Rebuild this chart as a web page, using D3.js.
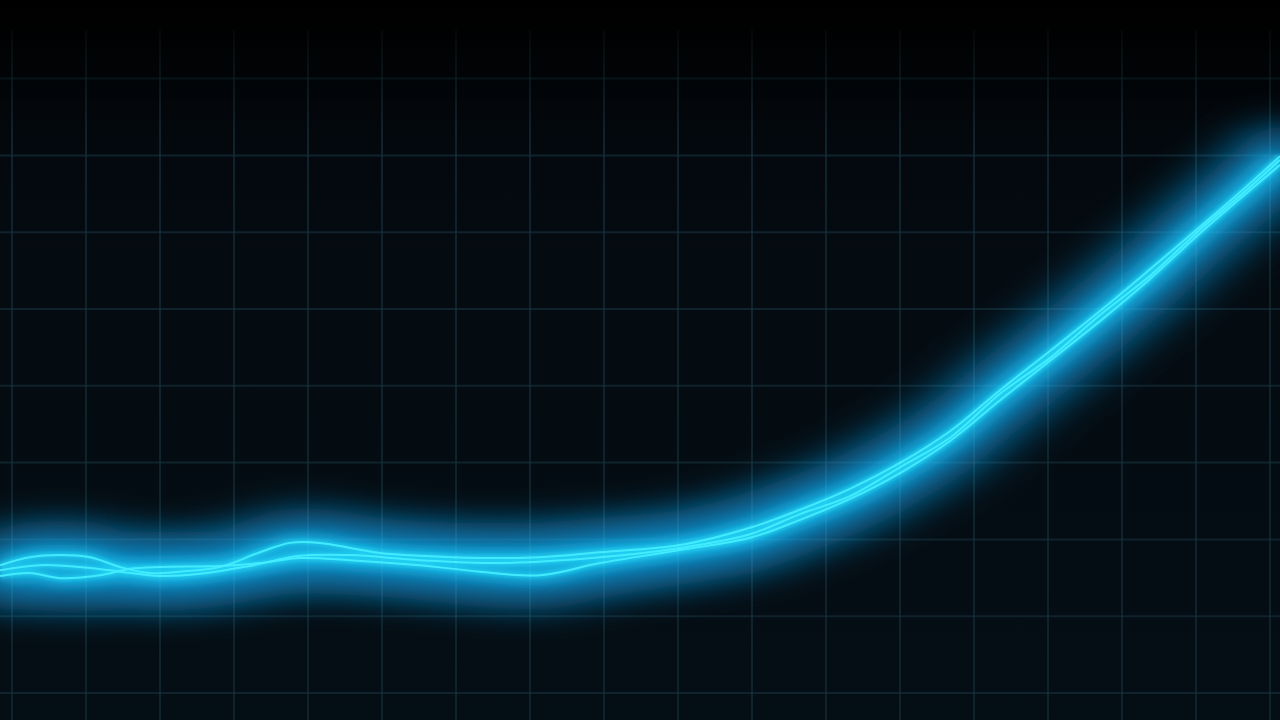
<!DOCTYPE html>
<html>
<head>
<meta charset="utf-8">
<script src="https://cdn.jsdelivr.net/npm/d3@7/dist/d3.min.js"></script>
<style>
  html, body { margin: 0; padding: 0; background: #03080d; overflow: hidden; }
  svg { display: block; }
</style>
</head>
<body>
<svg id="chart" width="1280" height="720"></svg>
<script>
// ---- Data (x: time units, y: value 0..100) ----
const strandAX = [0,3,6,9,12,15,18,22,26,29,32,35,38,42,48,54,60,68,75,80,85,90,95,100,105,110,115,120,124,128];
const strandAY = [21.5,22.6,22.9,22.6,21.25,20.4,20.6,21.25,23.3,24.6,24.6,23.9,23.2,22.8,22.5,22.6,23.3,24.3,26.7,29.2,32.1,35.7,40.1,45.8,51.25,56.8,62.6,68.5,73.3,78.3];

const strandBX = [0,3,6,10,13,16,22,26,30,35,42,48,54,60,68,75,80,85,90,95,100,105,110,115,120,124,128];
const strandBY = [20.0,20.4,19.7,20.1,21.0,21.25,21.4,21.8,22.5,22.2,21.5,20.6,20.1,21.8,23.6,25.3,27.8,30.7,34.3,38.75,44.4,49.9,55.4,61.25,67.6,72.4,77.1];

const strandCX = [0,4,8,12,16,20,25,30,35,42,50,60,68,75,80,85,90,95,100,105,110,115,120,124,128];
const strandCY = [20.8,21.5,21.25,20.6,20.0,20.3,21.4,22.8,22.9,22.2,21.8,22.6,23.9,25.8,28.6,31.1,35.1,39.2,45.3,50.3,56.25,61.7,68.1,72.8,77.8];

const xGridTicks = [1.2,8.6,16.0,23.4,30.8,38.2,45.6,53.0,60.4,67.8,75.2,82.6,90.0,97.4,104.8,112.2,119.6,127.0];
const yGridTicks = [3.75,14.42,25.08,35.75,46.42,57.08,67.75,78.42,89.08];

// ---- Setup ----
const W = 1280, H = 720;
const svg = d3.select("#chart");
const x = d3.scaleLinear().domain([0, 128]).range([0, 1280]);
const y = d3.scaleLinear().domain([0, 100]).range([720, 0]);

const defs = svg.append("defs");

const bg = defs.append("linearGradient").attr("id", "bg").attr("x1", 0).attr("y1", 0).attr("x2", 0).attr("y2", 1);
bg.append("stop").attr("offset", "0%").attr("stop-color", "#010203");
bg.append("stop").attr("offset", "8%").attr("stop-color", "#02060a");
bg.append("stop").attr("offset", "35%").attr("stop-color", "#040b11");
bg.append("stop").attr("offset", "100%").attr("stop-color", "#040e15");

function blurFilter(id, sd) {
  const f = defs.append("filter").attr("id", id)
    .attr("filterUnits", "userSpaceOnUse")
    .attr("x", -200).attr("y", -200).attr("width", 1680).attr("height", 1120);
  f.append("feGaussianBlur").attr("stdDeviation", sd);
}
blurFilter("wideGlow", "28 16");
blurFilter("midGlow", "12 5");
blurFilter("tightGlow", "2");

svg.append("rect").attr("width", W).attr("height", H).attr("fill", "url(#bg)");

// grid (base, faint)
const grid = svg.append("g");
grid.selectAll("line.v").data(xGridTicks).join("line")
  .attr("x1", d => x(d)).attr("x2", d => x(d))
  .attr("y1", 30).attr("y2", H)
  .attr("stroke", "#09161d").attr("stroke-width", 2);
grid.selectAll("line.h").data(yGridTicks).join("line")
  .attr("x1", 0).attr("x2", W)
  .attr("y1", d => y(d)).attr("y2", d => y(d))
  .attr("stroke", "#0b1a22").attr("stroke-width", 2);

const strands = [
  strandAX.map((d, i) => [d, strandAY[i]]),
  strandBX.map((d, i) => [d, strandBY[i]]),
  strandCX.map((d, i) => [d, strandCY[i]])
];
const line = d3.line().x(d => x(d[0])).y(d => y(d[1])).curve(d3.curveCatmullRom.alpha(0.5));

// wide halo
const halo = svg.append("g").attr("filter", "url(#wideGlow)");
halo.selectAll("path").data(strands).join("path")
  .attr("d", line).attr("fill", "none")
  .attr("stroke", "#0b86c2").attr("stroke-width", 70).attr("stroke-opacity", 0.6)
  .attr("stroke-linecap", "round");

// mid glow
const mid = svg.append("g").attr("filter", "url(#midGlow)");
mid.selectAll("path").data(strands).join("path")
  .attr("d", line).attr("fill", "none")
  .attr("stroke", "#16b8e6").attr("stroke-width", 20).attr("stroke-opacity", 0.6);

// tight glow
const tight = svg.append("g").attr("filter", "url(#tightGlow)");
tight.selectAll("path").data(strands).join("path")
  .attr("d", line).attr("fill", "none")
  .attr("stroke", "#22d4f4").attr("stroke-width", 5).attr("stroke-opacity", 0.8);

// cores
svg.append("g").selectAll("path").data(strands).join("path")
  .attr("d", line).attr("fill", "none")
  .attr("stroke", "#46ecff").attr("stroke-width", 2).attr("stroke-opacity", 0.95);

// grid overlay (brightens over glow)
const gridTop = svg.append("g").style("mix-blend-mode", "screen");
gridTop.selectAll("line.v").data(xGridTicks).join("line")
  .attr("x1", d => x(d)).attr("x2", d => x(d))
  .attr("y1", 30).attr("y2", H)
  .attr("stroke", "#5fb8dc").attr("stroke-opacity", 0.07).attr("stroke-width", 2);
gridTop.selectAll("line.h").data(yGridTicks).join("line")
  .attr("x1", 0).attr("x2", W)
  .attr("y1", d => y(d)).attr("y2", d => y(d))
  .attr("stroke", "#5fb8dc").attr("stroke-opacity", 0.05).attr("stroke-width", 2);

// top fade
const fade = defs.append("linearGradient").attr("id", "fade").attr("x1", 0).attr("y1", 0).attr("x2", 0).attr("y2", 1);
fade.append("stop").attr("offset", "0%").attr("stop-color", "#000").attr("stop-opacity", 1);
fade.append("stop").attr("offset", "100%").attr("stop-color", "#000").attr("stop-opacity", 0);
svg.append("rect").attr("width", W).attr("height", 130).attr("fill", "url(#fade)");
</script>
</body>
</html>
